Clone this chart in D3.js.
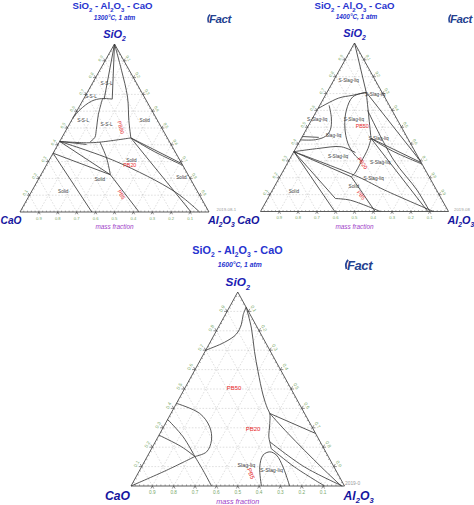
<!DOCTYPE html>
<html>
<head>
<meta charset="utf-8">
<script src="https://cdn.jsdelivr.net/npm/d3@7/dist/d3.min.js"></script>
<style>
html,body{margin:0;padding:0;background:#fff;}
svg{display:block;font-family:"Liberation Sans",Arial,sans-serif;}
</style>
</head>
<body>
<svg id="chart" width="474" height="505"></svg>
<script>
// ================= DATA (mass fractions: [SiO2, Al2O3], CaO = rest) =================
const systemName = "SiO2 - Al2O3 - CaO";
const vertexTop = "SiO2";
const vertexLeft = "CaO";
const vertexRight = "Al2O3";
const temperatures = ["1300", "1400", "1600"];
const pressureText = "1 atm";
const axisTitle = "mass fraction";
const stampTexts = ["2019-08-1", "2019-08", "2019-0"];
const logoText = "Fact";
const tickValues = [0.1, 0.2, 0.3, 0.4, 0.5, 0.6, 0.7, 0.8, 0.9];
const tickLabels = ["0.1", "0.2", "0.3", "0.4", "0.5", "0.6", "0.7", "0.8", "0.9"];

// ---- 1300 C phase boundaries ----
const lines1300 = [
  [[1, 0], [0.672, 0.152]],
  [[1, 0], [0.67, 0.11]],
  [[1, 0], [0.844, 0.115], [0.684, 0.227], [0.544, 0.304], [0.441, 0.366]],
  [[0.56, 0], [0.609, 0.013], [0.66, 0.049], [0.675, 0.094], [0.672, 0.152]],
  [[0.673, 0.1], [0.582, 0.124], [0.492, 0.158], [0.444, 0.174], [0.417, 0.162]],
  [[0.42, 0], [0.412, 0.146], [0.416, 0.215], [0.441, 0.366]],
  [[0.42, 0], [0.402, 0.151]],
  [[0.416, 0.215], [0.322, 0.297], [0.222, 0.367]],
  [[0.441, 0.366], [0.288, 0.712]],
  [[0.441, 0.366], [0.36, 0.53], [0.278, 0.722]],
  [[0.441, 0.366], [0, 0.905]],
  [[0.42, 0], [0.222, 0.367]],
  [[0.35, 0], [0.222, 0.367]],
  [[0.35, 0], [0, 0.38]],
  [[0.222, 0.367], [0, 0.63]],
  [[0.42, 0], [0.30, 0.36], [0.12, 0.76], [0, 0.95]]
];
const labels1300 = ["S-S-L", "S-S-L", "S-S-L", "S-S-L", "Solid", "PB80", "Solid", "PB20", "Solid", "Solid", "PB5", "Solid"];
const labelPos1300 = [[0.764, 0.076], [0.688, 0.031], [0.544, 0.062], [0.52, 0.198], [0.544, 0.388], [0.504, 0.282],
  [0.304, 0.438], [0.278, 0.442], [0.194, 0.326], [0.12, 0.169], [0.104, 0.485], [0.204, 0.752]];

// ---- 1400 C phase boundaries ----
const lines1400 = [
  [[1, 0], [0.707, 0.209]],
  [[0.61, 0], [0.673, 0.079], [0.689, 0.142], [0.707, 0.209]],
  [[0.707, 0.209], [0.681, 0.151], [0.602, 0.156], [0.503, 0.197], [0.404, 0.263], [0.335, 0.334], [0.30, 0.387]],
  [[0.707, 0.209], [0.574, 0.288], [0.434, 0.371]],
  [[0.434, 0.371], [0.374, 0.385], [0.295, 0.388], [0.226, 0.388], [0.206, 0.38]],
  [[0.63, 0.05], [0.554, 0.1], [0.485, 0.129], [0.446, 0.122], [0.426, 0.079], [0.425, 0]],
  [[0.445, 0], [0.44, 0.09]],
  [[0.355, 0], [0.374, 0.119], [0.384, 0.238], [0.35, 0.33]],
  [[0.355, 0], [0.206, 0.416], [0.127, 0.597], [0, 0.92]],
  [[0.355, 0], [0, 0.395]],
  [[0.355, 0], [0.206, 0.38]],
  [[0.206, 0.38], [0, 0.61]],
  [[0.434, 0.371], [0.29, 0.71]],
  [[0.434, 0.371], [0.36, 0.52], [0.282, 0.718]],
  [[0.434, 0.371], [0, 0.89]],
  [[0.707, 0.209], [0.30, 0.70]],
  [[0.60, 0.27], [0.305, 0.556], [0.127, 0.769], [0, 0.9]],
  [[0.355, 0], [0.077, 0.36]],
  [[0.077, 0.36], [0.067, 0.444], [0, 0.637]]
];
const labels1400 = ["S-Slag-liq", "S-Slag-liq", "S-Slag-liq", "S-Slag-liq", "PB50", "Slag-liq", "S-Slag-liq",
  "S-Slag-liq", "PB20", "S-Slag-liq", "S-Slag-liq", "Solid", "PB5", "Solid"];
const labelPos1400 = [[0.776, 0.081], [0.693, 0.264], [0.545, 0.029], [0.545, 0.224], [0.505, 0.288], [0.451, 0.163],
  [0.436, 0.41], [0.325, 0.25], [0.287, 0.399], [0.291, 0.491], [0.198, 0.503], [0.147, 0.423], [0.097, 0.487], [0.119, 0.118]];

// ---- 1600 C phase boundaries ----
const lines1600 = [
  [[0.70, 0], [0.741, 0.068], [0.783, 0.102], [0.831, 0.101], [0.883, 0.084], [0.921, 0.079]],
  [[0.92, 0.08], [0.814, 0.157], [0.693, 0.232], [0.590, 0.300], [0.469, 0.384], [0.40, 0.439], [0.374, 0.463],
   [0.322, 0.489], [0.253, 0.519], [0.228, 0.536], [0.193, 0.560]],
  [[0.374, 0.463], [0.271, 0.729]],
  [[0.374, 0.463], [0.271, 0.600], [0.098, 0.842], [0, 0.985]],
  [[0.228, 0.536], [0.098, 0.764], [0, 0.99]],
  [[0.193, 0.560], [0.098, 0.717], [0, 0.907]],
  [[0, 0.611], [0.098, 0.554], [0.159, 0.539], [0.176, 0.562], [0.159, 0.602], [0.098, 0.663], [0.029, 0.720], [0, 0.743]],
  [[0.262, 0], [0.202, 0.136], [0.152, 0.223]],
  [[0.343, 0], [0.253, 0.118], [0.152, 0.223]],
  [[0.426, 0], [0.374, 0.135], [0.305, 0.216], [0.236, 0.259], [0.176, 0.266], [0.152, 0.223]],
  [[0, 0], [0.081, 0.126], [0.152, 0.223]],
  [[0.152, 0.223], [0.081, 0.297], [0, 0.377]]
];
const labels1600 = ["PB50", "PB20", "Slag-liq", "S-Slag-liq", "PB5"];
const labelPos1600 = [[0.507, 0.229], [0.293, 0.425], [0.107, 0.487], [0.081, 0.617], [0.064, 0.529]];

// ================= LAYOUT =================
const panels = [
  { temp: temperatures[0], lines: lines1300, labels: labels1300, labelPos: labelPos1300,
    rot: [0, 0, 0, 0, 0, 75, 0, 0, 0, 0, 60, 0],
    L: 20, R: 209, base: 212, apex: 44, k: 1,
    titleX: 112.5, titleY: 9, subY: 20, vertY: 37.5, cornerDy: 12, massDy: 17,
    leftLabelStart: 0.6, leftFs: 10.2,
    logo: [209, 23], stamp: [216.5, 211], stampText: stampTexts[0], clip: [0, 0, 237, 240] },
  { temp: temperatures[1], lines: lines1400, labels: labels1400, labelPos: labelPos1400,
    rot: [0, 0, 0, 0, 0, 0, 0, 0, 55, 0, 0, 0, 50, 0],
    L: 260.5, R: 448.5, base: 211.5, apex: 43, k: 1,
    titleX: 354.5, titleY: 9, subY: 18.8, vertY: 36.5, cornerDy: 12, massDy: 17,
    logo: [450, 23], stamp: [454, 211], stampText: stampTexts[1], clip: [237, 0, 237, 240] },
  { temp: temperatures[2], lines: lines1600, labels: labels1600, labelPos: labelPos1600,
    rot: [0, 0, 0, 0, 70],
    L: 131, R: 344.5, base: 486, apex: 292, k: 1.13,
    titleX: 237.5, titleY: 254, subY: 267, vertY: 286, cornerDy: 13.5, massDy: 18,
    logo: [347, 269.5], stamp: [345, 484.5], stampText: stampTexts[2], clip: [0, 240, 474, 265] }
];

const svg = d3.select("#chart");
const lineGen = d3.line().curve(d3.curveCatmullRom.alpha(0.5));

function chem(sel, str, fs) {
  const parts = str.match(/\d+|[^\d]+/g);
  let down = false;
  parts.forEach(part => {
    const isNum = /^\d+$/.test(part);
    const t = sel.append("tspan").text(part);
    if (isNum) { t.attr("font-size", fs * 0.62).attr("dy", fs * 0.3); down = true; }
    else if (down) { t.attr("dy", -fs * 0.3); down = false; }
  });
}

panels.forEach((p, i) => {
  const k = p.k;
  const clipId = "clip" + i;
  svg.append("clipPath").attr("id", clipId).append("rect")
    .attr("x", p.clip[0]).attr("y", p.clip[1]).attr("width", p.clip[2]).attr("height", p.clip[3]);
  const g = svg.append("g").attr("clip-path", `url(#${clipId})`);

  const x = d3.scaleLinear().domain([0, 1]).range([p.L, p.R]);
  const y = d3.scaleLinear().domain([0, 1]).range([p.base, p.apex]);
  const P = (s, a) => [x(a + s / 2), y(s)];
  const cx = (p.L + p.R) / 2;

  // grid
  const gridG = g.append("g");
  const gridSegs = [];
  tickValues.forEach(v => {
    gridSegs.push([P(v, 0), P(v, 1 - v)]);       // const SiO2
    gridSegs.push([P(0, v), P(1 - v, v)]);       // const Al2O3
    gridSegs.push([P(0, 1 - v), P(1 - v, 0)]);   // const CaO
  });
  gridSegs.forEach(seg => {
    gridG.append("line").attr("x1", seg[0][0]).attr("y1", seg[0][1]).attr("x2", seg[1][0]).attr("y2", seg[1][1])
      .attr("stroke", "#c4c4c4").attr("stroke-width", 0.55).attr("stroke-dasharray", "1.6,1.6");
    [[seg[0], seg[1]], [seg[1], seg[0]]].forEach(([a, b]) => {
      const dx = a[0] - b[0], dy = a[1] - b[1], len = Math.hypot(dx, dy);
      const ext = 2.6 * k;
      gridG.append("line").attr("x1", a[0]).attr("y1", a[1])
        .attr("x2", a[0] + dx / len * ext).attr("y2", a[1] + dy / len * ext)
        .attr("stroke", "#444").attr("stroke-width", 0.6);
    });
  });

  // triangle edges
  const A = P(1, 0), Lc = P(0, 0), Rc = P(0, 1);
  g.append("path").attr("d", `M${Lc}L${Rc}L${A}Z`).attr("fill", "none").attr("stroke", "#333").attr("stroke-width", 0.8);

  // minor ticks along edges (inward)
  const minor = d3.range(1, 50).map(j => j / 50);
  const edges = [
    { f: t => P(t, 0) },
    { f: t => P(1 - t, t) },
    { f: t => P(0, t) }
  ];
  const centroid = P(1 / 3, 1 / 3);
  edges.forEach(e => {
    const p0 = e.f(0), p1 = e.f(1);
    let nx = -(p1[1] - p0[1]), ny = p1[0] - p0[0];
    const nl = Math.hypot(nx, ny); nx /= nl; ny /= nl;
    const mid = e.f(0.5);
    if ((centroid[0] - mid[0]) * nx + (centroid[1] - mid[1]) * ny < 0) { nx = -nx; ny = -ny; }
    e.n = [nx, ny];
    minor.forEach(t => {
      const q = e.f(t);
      g.append("line").attr("x1", q[0]).attr("y1", q[1]).attr("x2", q[0] + nx * 1.4 * k).attr("y2", q[1] + ny * 1.4 * k)
        .attr("stroke", "#555").attr("stroke-width", 0.5);
    });
  });

  // tick labels
  const tickFs = 4.2 * k, tickCol = "#78a868";
  tickValues.forEach((v, j) => {
    const ql = P(v, 0), nl = edges[0].n;
    const lx = ql[0] - nl[0] * 5 * k, ly = ql[1] - nl[1] * 5 * k;
    g.append("text").attr("x", lx).attr("y", ly).attr("transform", `rotate(-60,${lx},${ly})`)
      .attr("text-anchor", "middle").attr("dominant-baseline", "central")
      .attr("font-size", tickFs).attr("fill", tickCol).text(tickLabels[j]);
    const qr = P(1 - v, v), nr = edges[1].n;
    const rx = qr[0] - nr[0] * 5 * k, ry = qr[1] - nr[1] * 5 * k;
    g.append("text").attr("x", rx).attr("y", ry).attr("transform", `rotate(60,${rx},${ry})`)
      .attr("text-anchor", "middle").attr("dominant-baseline", "central")
      .attr("font-size", tickFs).attr("fill", tickCol).text(tickLabels[j]);
    const qb = P(0, 1 - v);
    g.append("text").attr("x", qb[0]).attr("y", qb[1] + 6 * k)
      .attr("text-anchor", "middle").attr("dominant-baseline", "central")
      .attr("font-size", tickFs).attr("fill", tickCol).text(tickLabels[j]);
  });

  // phase boundaries
  g.append("g").selectAll("path").data(p.lines).join("path")
    .attr("d", d => lineGen(d.map(pt => P(pt[0], pt[1]))))
    .attr("fill", "none").attr("stroke", "#3a3a3a").attr("stroke-width", 0.85).attr("stroke-linejoin", "round");

  // region labels
  p.labels.forEach((t, j) => {
    const q = P(p.labelPos[j][0], p.labelPos[j][1]);
    const red = t.startsWith("PB");
    g.append("text").attr("x", q[0]).attr("y", q[1])
      .attr("transform", p.rot[j] ? `rotate(${p.rot[j]},${q[0]},${q[1]})` : null)
      .attr("text-anchor", "middle").attr("dominant-baseline", "central")
      .attr("font-size", (red ? 5.3 : 4.7) * k).attr("fill", red ? "#e8282a" : "#404040").text(t);
  });

  // titles
  const tFs = 9.6 * k;
  const title = g.append("text").attr("x", p.titleX).attr("y", p.titleY).attr("text-anchor", "middle")
    .attr("font-size", tFs).attr("font-weight", "bold").attr("fill", "#2733cf");
  chem(title, systemName, tFs);
  g.append("text").attr("x", p.titleX + 2 * k).attr("y", p.subY).attr("text-anchor", "middle")
    .attr("font-size", 6.4 * k * (i === 2 ? 0.94 : 1)).attr("font-weight", "bold").attr("font-style", "italic").attr("fill", "#2733cf")
    .text(p.temp + "\u00B0C, " + pressureText);

  // vertex labels
  const vFs = 11 * k * (i === 2 ? 0.95 : 1);
  const vt = g.append("text").attr("x", cx).attr("y", p.vertY).attr("text-anchor", "middle")
    .attr("font-size", vFs).attr("font-weight", "bold").attr("font-style", "italic").attr("fill", "#1c1cb4");
  chem(vt, vertexTop, vFs);
  const cFs = 10.8 * k;
  const lFs = p.leftFs || cFs;
  const lt = g.append("text")
    .attr("x", p.leftLabelStart !== undefined ? p.leftLabelStart : p.L - 1)
    .attr("y", p.base + p.cornerDy)
    .attr("text-anchor", p.leftLabelStart !== undefined ? "start" : "end")
    .attr("font-size", lFs).attr("font-weight", "bold").attr("font-style", "italic").attr("fill", "#15159e");
  chem(lt, vertexLeft, lFs);
  const rt = g.append("text").attr("x", p.R - 1).attr("y", p.base + p.cornerDy).attr("text-anchor", "start")
    .attr("font-size", cFs).attr("font-weight", "bold").attr("font-style", "italic").attr("fill", "#15159e");
  chem(rt, vertexRight, cFs);

  // axis title
  g.append("text").attr("x", cx).attr("y", p.base + p.massDy).attr("text-anchor", "middle")
    .attr("font-size", 6.4 * k).attr("font-style", "italic").attr("fill", "#a03cc8").text(axisTitle);

  // date stamp
  g.append("text").attr("x", p.stamp[0]).attr("y", p.stamp[1]).attr("font-size", 4.3 * k).attr("fill", "#9a9a9a").text(p.stampText);

  // logo
  const lg = g.append("g").attr("transform", `translate(${p.logo[0]},${p.logo[1]})`);
  lg.append("path").attr("d", `M${1 * k},${-8.5 * k} q${-3 * k},${3 * k} ${-1.5 * k},${8 * k}`)
    .attr("fill", "none").attr("stroke", "#2a4a9a").attr("stroke-width", 1.6 * k);
  lg.append("text").attr("x", 0).attr("y", 0).attr("font-size", 11.5 * k).attr("font-weight", "bold")
    .attr("font-style", "italic").attr("fill", "#24418f").attr("letter-spacing", -0.4).text(logoText);
});
</script>
</body>
</html>
